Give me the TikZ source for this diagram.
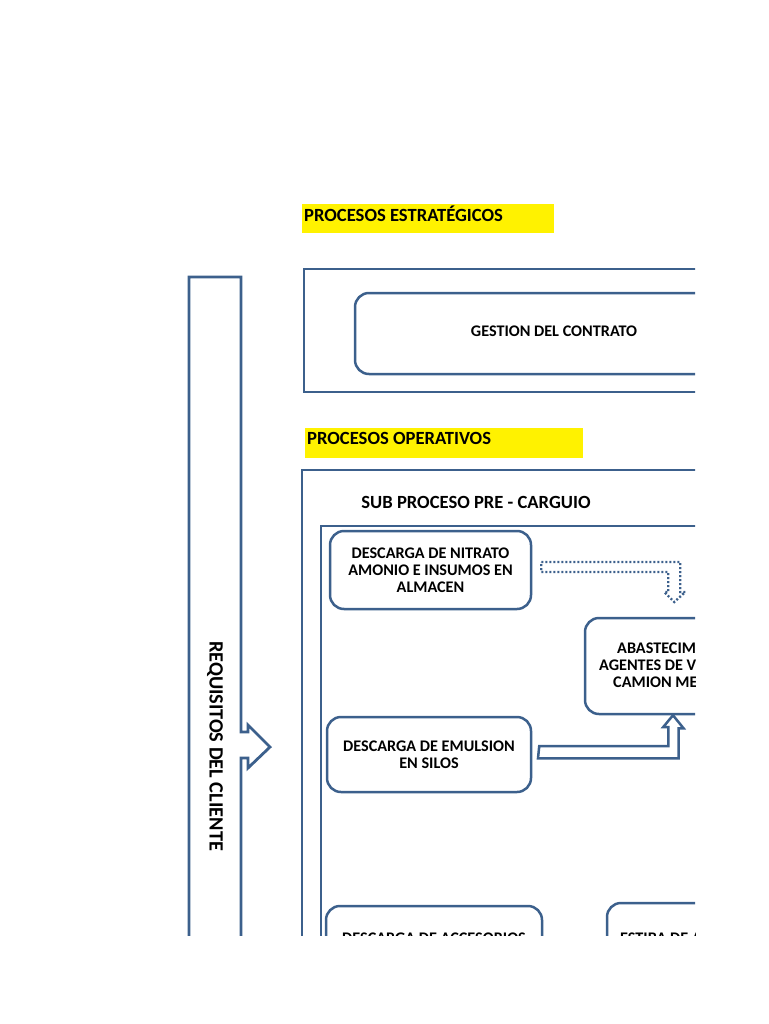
\documentclass[tikz,border=0pt]{standalone}
\usepackage{fontspec}
\setmainfont{Carlito}
\usetikzlibrary{calc}
\definecolor{boxblue}{RGB}{60,96,140}
\begin{document}
\begin{tikzpicture}[x=1pt,y=-1pt,
  frame/.style={draw=boxblue,line width=2.8pt},
  proc/.style={draw=boxblue,line width=2.5pt,rounded corners=14pt,fill=white,inner sep=0pt},
  hdrtxt/.style={font=\bfseries\fontsize{18.6}{21}\selectfont,inner sep=0pt},
  lbl/.style={font=\bfseries\fontsize{16.2}{17}\selectfont,align=center,text=black,inner sep=0pt},
  blockarrow/.style={draw=boxblue,line width=2.5pt,fill=white,line join=miter},
  dotarrow/.style={draw=boxblue,line width=2.4pt,dash pattern=on 2pt off 2pt,line join=miter}
]
\useasboundingbox (0,0) rectangle (768,1024);
\begin{scope}
\clip (0,0) rectangle (695,935);
% headers
\fill[yellow] (302,204) rectangle (554,233);
\node[hdrtxt,anchor=west] (hE) at (304,214) {PROCESOS ESTRATÉGICOS};
\fill[yellow] (305,428) rectangle (583,458);
\node[hdrtxt,anchor=west] (hO) at (307,438) {PROCESOS OPERATIVOS};
% strategic frame
\draw[frame] (304,269) rectangle (820,392);
\node[proc,minimum width=398pt,minimum height=81pt] (gest) at (554,333.5) {};
\node[lbl] (gestT) at (554,331) {GESTION DEL CONTRATO};
% operative frame
\draw[frame] (302,470) rectangle (820,1010);
\node[hdrtxt] (sub) at (476,502) {SUB PROCESO PRE - CARGUIO};
\draw[frame] (321,526) rectangle (820,1010);
% left bar with arrow
\draw[frame,line join=miter] (189,277) -- (241,277) -- (241,732) -- (248,732) -- (248,725)
  -- (270,747) -- (248,768) -- (248,758) -- (241,758) -- (241,1010) -- (189,1010) -- cycle;
\node[font=\bfseries\fontsize{20.3}{22}\selectfont,inner sep=0pt,rotate=-90] (req) at (215,746) {REQUISITOS DEL CLIENTE};
% process boxes
\node[proc,lbl,minimum width=201pt,minimum height=78pt] (nitr) at (430.5,570)
  {DESCARGA DE NITRATO\\AMONIO E INSUMOS EN\\ALMACEN};
\node[proc,lbl,minimum width=204pt,minimum height=75pt] (emul) at (429,754.5)
  {DESCARGA DE EMULSION\\EN SILOS};
\node[proc,minimum width=240pt,minimum height=96pt] (abas) at (705,666) {};
\node[lbl,anchor=west] (a1) at (617,648) {ABASTECIM};
\node[lbl,anchor=west] (a2) at (599,665) {AGENTES DE V};
\node[lbl,anchor=west] (a3) at (613,682) {CAMION ME};
\node[proc,minimum width=216pt,minimum height=90pt] (acc) at (434,951) {};
\node[lbl,anchor=base] (accT) at (434,943) {DESCARGA DE ACCESORIOS};
\node[proc,minimum width=200pt,minimum height=90pt] (est) at (707,948) {};
\node[lbl,anchor=base west] (estT) at (620,943) {ESTIBA DE A};
% dotted block arrow nitrato -> abastecimiento
\coordinate (d0) at ($(nitr.east)+(9,-8)$);
\draw[dotarrow] (d0) -- ++(139,0) -- ++(0,30) -- ++(5,0) -- ++(-11,10) -- ++(-10,-10)
  -- ++(4,0) -- ++(0,-20) -- ++(-127,0) -- cycle;
% solid block arrow emulsion -> abastecimiento
\draw[blockarrow] ($(emul.east)+(7,-8.5)$) -- ++(129,0) -- ++(0,-19) -- ++(-5,0)
  -- (abas.south -| 673,0) -- ++(10.5,13) -- ++(-5,0) -- ++(0,30) -- ++(-140.5,0) -- cycle;
\end{scope}
\end{tikzpicture}
\end{document}
